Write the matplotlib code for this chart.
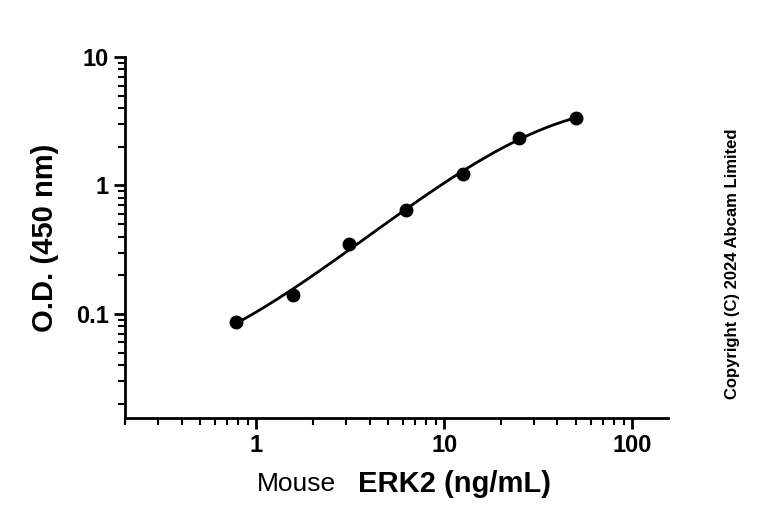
import numpy as np
import matplotlib
matplotlib.use("Agg")
import matplotlib.pyplot as plt
from matplotlib.ticker import LogLocator, NullFormatter, FixedLocator, FixedFormatter

plt.rcParams['font.family'] = ['Liberation Sans', 'DejaVu Sans']

conc = [0.78, 1.5625, 3.125, 6.25, 12.5, 25, 50]
od = [0.087, 0.141, 0.352, 0.65, 1.23, 2.33, 3.36]

fig = plt.figure(figsize=(7.68, 5.27), dpi=100)
ax = fig.add_axes([125/768, (527-418)/527, (668-125)/768, (418-57)/527])

lx, ly = np.log10(conc), np.log10(od)
c = np.polyfit(lx, ly, 3)
xs = np.linspace(lx[0], lx[-1], 200)
ax.plot(10**xs, 10**np.polyval(c, xs), color="black", lw=2)
ax.plot(conc, od, "o", color="black", ms=9)

ax.set_xscale("log"); ax.set_yscale("log")
ax.set_xlim(0.2, 155); ax.set_ylim(0.0155, 10)
for s in ["top", "right"]:
    ax.spines[s].set_visible(False)
for s in ["left", "bottom"]:
    ax.spines[s].set_linewidth(2)
ax.xaxis.set_major_locator(FixedLocator([1, 10, 100]))
ax.xaxis.set_major_formatter(FixedFormatter(["1", "10", "100"]))
ax.yaxis.set_major_locator(FixedLocator([0.1, 1, 10]))
ax.yaxis.set_major_formatter(FixedFormatter(["0.1", "1", "10"]))
ax.xaxis.set_minor_locator(LogLocator(subs=np.arange(2, 10)))
ax.yaxis.set_minor_locator(LogLocator(subs=np.arange(2, 10)))
ax.xaxis.set_minor_formatter(NullFormatter()); ax.yaxis.set_minor_formatter(NullFormatter())
ax.tick_params(which="major", length=8, width=2, labelsize=17)
ax.tick_params(which="minor", length=5, width=1.5)
for t in ax.get_xticklabels() + ax.get_yticklabels():
    t.set_fontweight("bold")

ax.set_ylabel("O.D. (450 nm)", fontsize=21, fontweight="bold", labelpad=12)
fig.text(296/768, 1-484/527, "Mouse", fontsize=19, ha="center", va="center")
fig.text(455/768, 1-484/527, "ERK2 (ng/mL)", fontsize=21, fontweight="bold", ha="center", va="center")
fig.text(733/768, 0.5, "Copyright (C) 2024 Abcam Limited", rotation=90, fontsize=12,
         fontweight="bold", ha="center", va="center")
fig.savefig("out.png", dpi=100)
